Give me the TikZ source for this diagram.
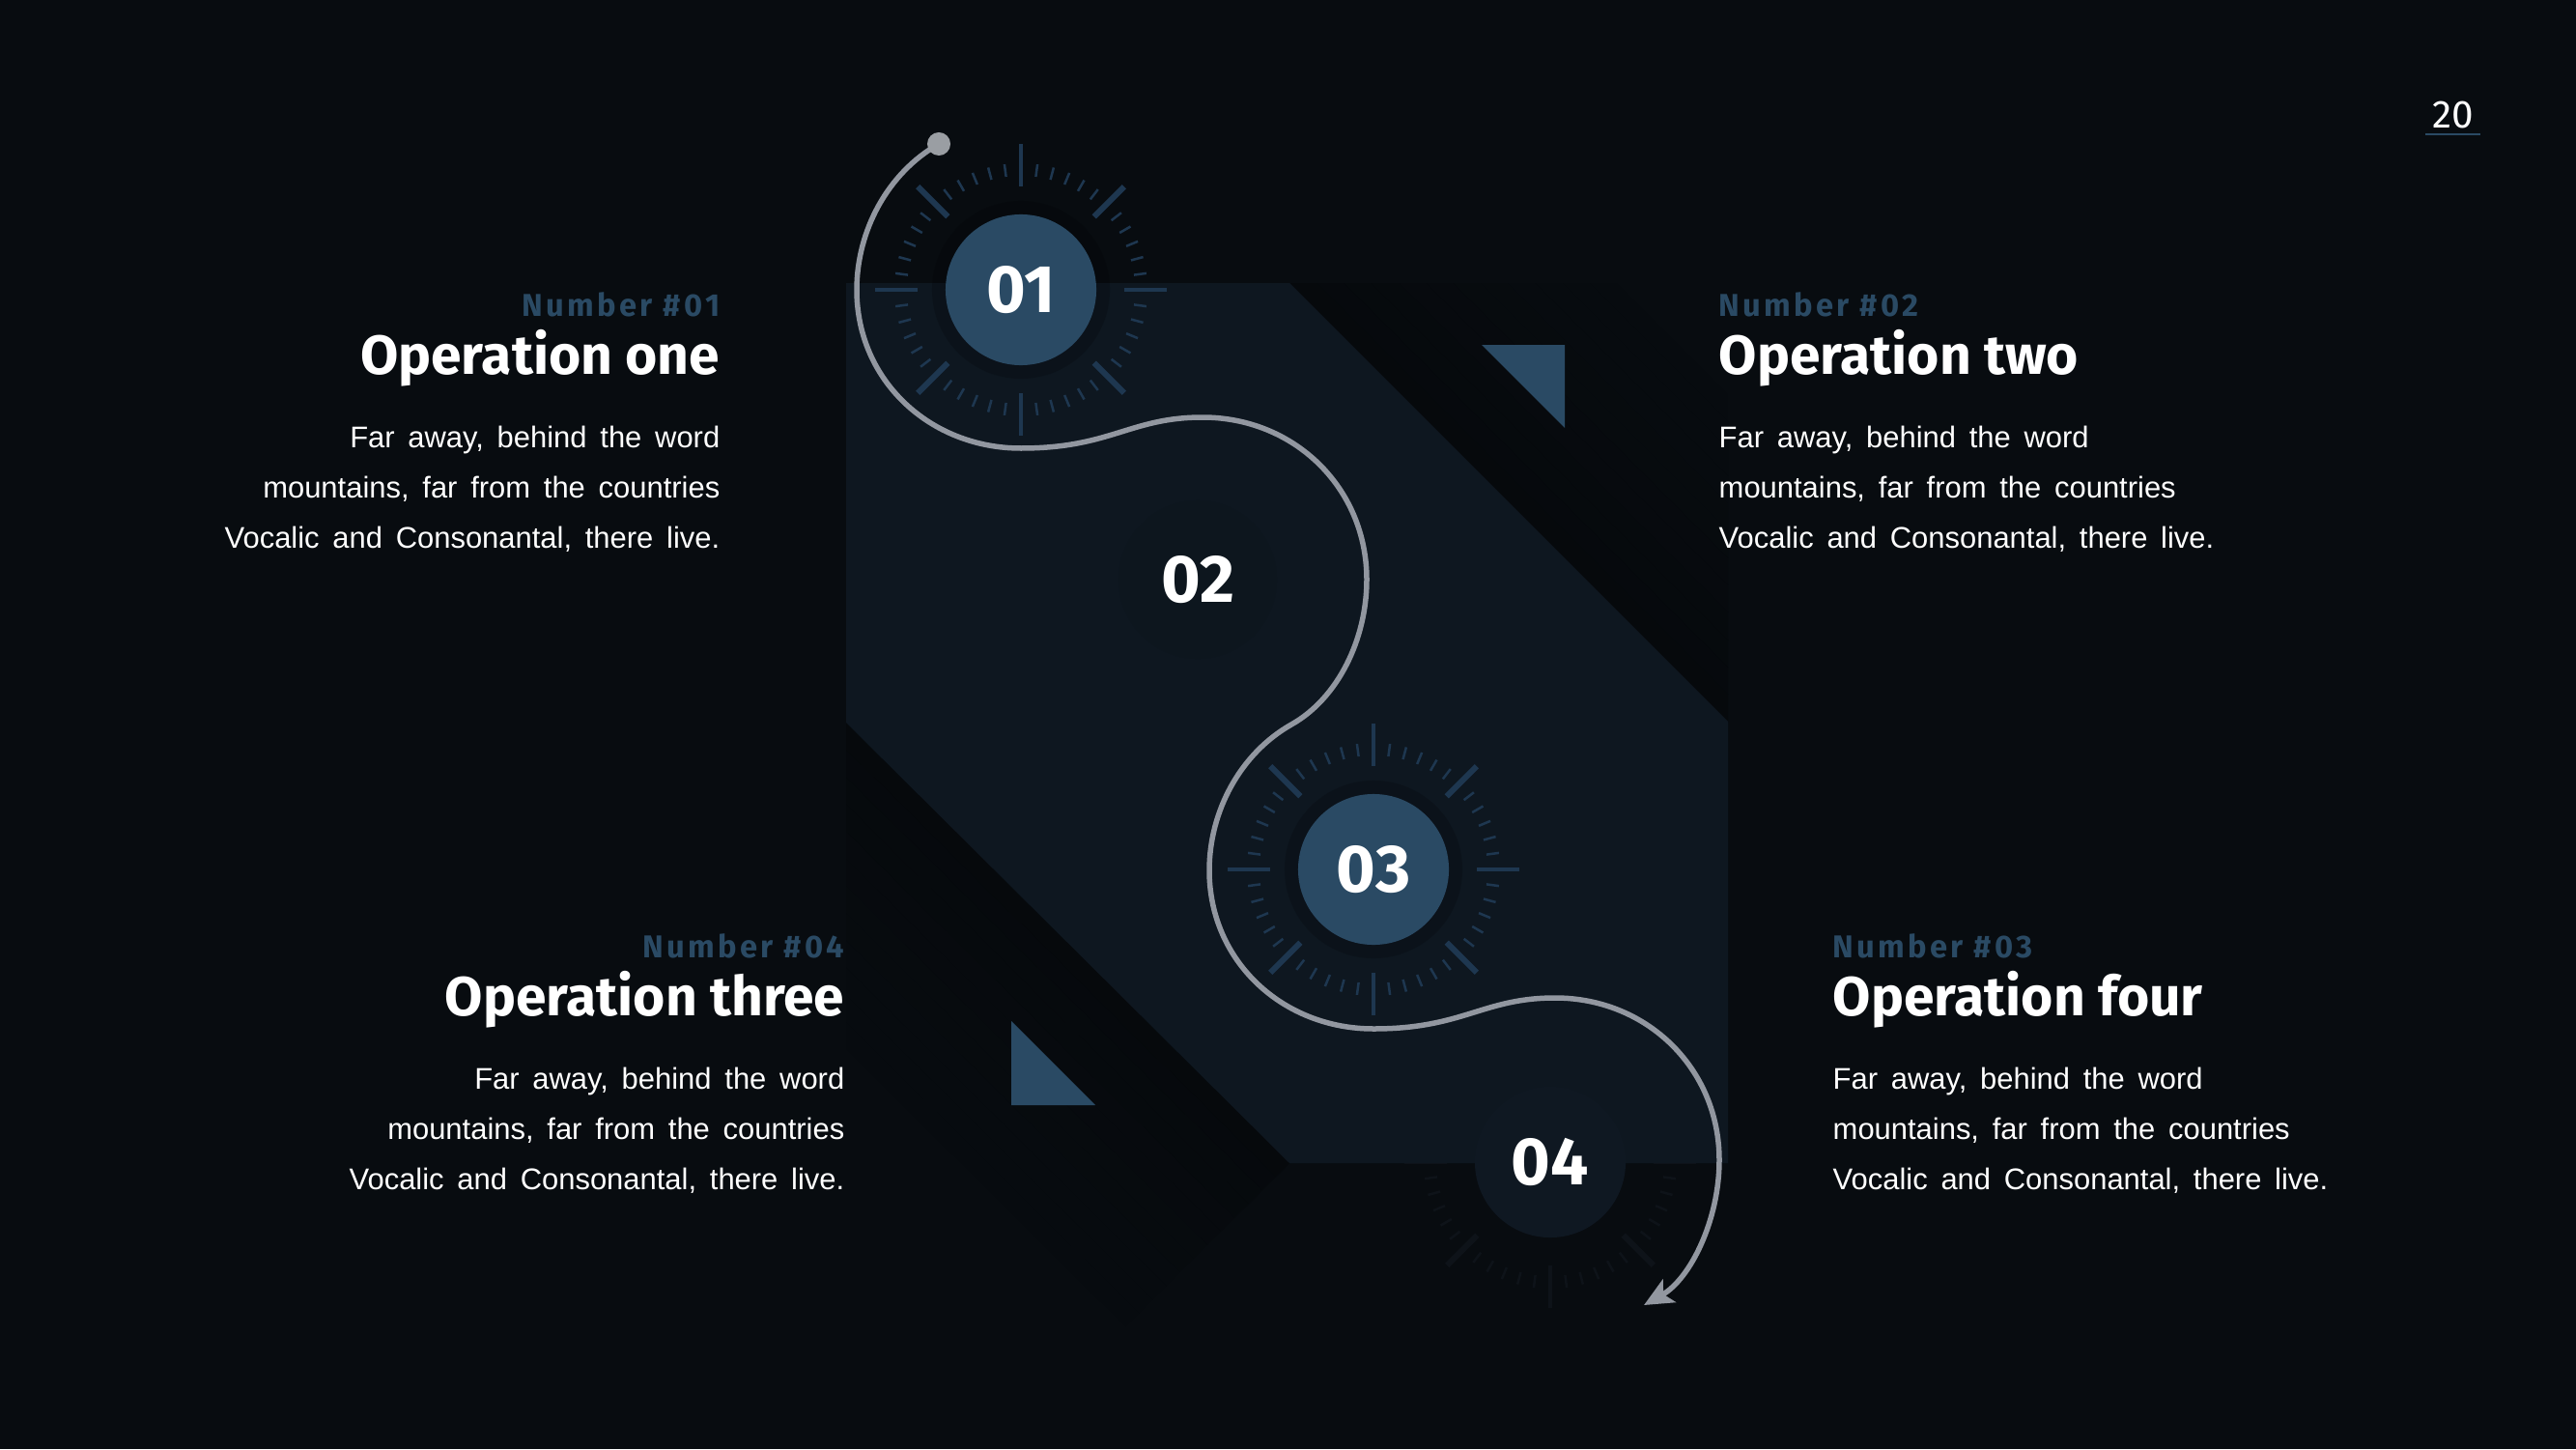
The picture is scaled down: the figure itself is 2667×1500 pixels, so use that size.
\documentclass[tikz,border=0pt]{standalone}
\usepackage{fontspec}
\setmainfont{Liberation Sans}[WordSpace=1.6]
\newfontfamily\headfont{Fira Sans}
\newfontfamily\labfont{Fira Sans}[LetterSpace=10]
\usetikzlibrary{calc,arrows.meta}
\definecolor{bg}{HTML}{080C10}
\definecolor{panel}{HTML}{0E1720}
\definecolor{accent}{HTML}{2A4A64}
\definecolor{tickc}{HTML}{1E3750}
\definecolor{curvec}{HTML}{9297A0}
\definecolor{dotc}{HTML}{9A9EA3}
\definecolor{halotwo}{HTML}{0D161E}
\definecolor{discfour}{HTML}{0F1822}
\definecolor{faintc}{HTML}{0E1319}

\newcommand{\dialticks}[2]{%
  \foreach \i in {0,...,47}{%
    \pgfmathtruncatemacro{\m}{mod(\i,6)}%
    \pgfmathtruncatemacro{\q}{mod(\i,12)}%
    \pgfmathsetmacro{\ang}{\i*7.5}%
    \ifnum\m=0
      \ifnum\q=0
        \draw[majortick,#2] ($(#1)+(\ang:107)$) -- ($(#1)+(\ang:151)$);
      \else
        \draw[diagtick,#2] ($(#1)+(\ang:107)$) -- ($(#1)+(\ang:151)$);
      \fi
    \else
      \draw[minortick,#2] ($(#1)+(\ang:118)$) -- ($(#1)+(\ang:131)$);
    \fi
  }}

\newcommand{\opblock}[6]{%
  \node[numlbl, anchor=#4] (#1num) at (#2,#3) {#5};
  \node[titlelbl, anchor=#4] (#1title) at (#2,#3+60) {#6};
  \node[bodyline, anchor=#4] (#1la) at (#2,#3+136) {Far away, behind the word};
  \node[bodyline, anchor=#4] (#1lb) at (#2,#3+188) {mountains, far from the countries};
  \node[bodyline, anchor=#4] (#1lc) at (#2,#3+240) {Vocalic and Consonantal, there live.};
}

\begin{document}
\begin{tikzpicture}[x=0.01cm,y=-0.01cm,
  majortick/.style={draw=tickc, line width=0.04cm},
  diagtick/.style={draw=tickc, line width=0.06cm},
  minortick/.style={draw=tickc, line width=0.025cm},
  numlbl/.style={font=\labfont\bfseries\fontsize{9.3}{11}\selectfont, text=accent, inner sep=0pt},
  titlelbl/.style={font=\headfont\bfseries\fontsize{16.2}{19}\selectfont, text=white, inner sep=0pt},
  bodyline/.style={font=\fontsize{8.8}{11}\selectfont, text=white, inner sep=0pt},
  digitdisc/.style={circle, inner sep=0pt, minimum size=1.56cm, text=white,
    font=\headfont\bfseries\fontsize{19.8}{22}\selectfont},
  curveline/.style={draw=curvec, line width=0.055cm, line cap=round},
  shadowstrip/.style={fill=black}
]
\useasboundingbox (0,0) rectangle (2667,1500);
\fill[bg] (0,0) rectangle (2667,1500);

% soft shadows beside the diagonal edges
\begin{scope}
  \clip (1335,293) rectangle (1789,747);
  \foreach \d/\o in {0/0.20,20/0.18,40/0.16,60/0.14,80/0.12,100/0.10,120/0.08,140/0.065,160/0.05,180/0.035,200/0.02,220/0.01}{
    \fill[shadowstrip, opacity=\o, shift={({\d*0.7071},{-\d*0.7071})}]
      (1335,293) -- (1789,747) -- (1803.1,732.9) -- (1349.1,278.9) -- cycle;
  }
\end{scope}
\begin{scope}
  \clip (876,748) rectangle (1335,1500);
  \foreach \d/\o in {0/0.20,20/0.18,40/0.16,60/0.14,80/0.12,100/0.10,120/0.08,140/0.065,160/0.05,180/0.035,200/0.02,220/0.01}{
    \fill[shadowstrip, opacity=\o, shift={({-\d*0.7071},{\d*0.7071})}]
      (876,748) -- (1335,1204) -- (1320.9,1218.1) -- (861.9,762.1) -- cycle;
  }
\end{scope}

% centres
\coordinate (c01) at (1057,300);
\coordinate (c02) at (1240,600);
\coordinate (c03) at (1422,900);
\coordinate (c04) at (1605,1203);

% faint dial of 04 (only its lower half shows below the panel)
\dialticks{c04}{draw=faintc}

% panel
\fill[panel] (876,293) -- (1335,293) -- (1789,747) -- (1789,1204) -- (1335,1204) -- (876,748) -- cycle;

% triangles
\fill[accent] (1534,357) -- (1620,357) -- (1620,443) -- cycle;
\fill[accent] (1047,1057) -- (1047,1144) -- (1134,1144) -- cycle;

% dials
\dialticks{c01}{}
\dialticks{c03}{}

\fill[black, opacity=0.18] (c01) circle[radius=0.92cm];
\fill[black, opacity=0.18] (c03) circle[radius=0.92cm];

\node[digitdisc, fill=accent] (n01) at (c01) {01};
\node[digitdisc, fill=halotwo, minimum size=1.64cm] (n02) at (c02) {02};
\node[digitdisc, fill=accent] (n03) at (c03) {03};
\node[digitdisc, fill=discfour] (n04) at (c04) {04};

% the winding path
\coordinate (p0) at (972,149);
\coordinate (p2) at (1702,1351);
\draw[curveline, -{Stealth[length=0.3cm, width=0.27cm, inset=0.07cm]}]
  (p0) .. controls (919,179) and (887,239) .. (887,300)
       .. controls (887,394) and (963,464) .. (1057,464)
       .. controls (1150,464) and (1170,432) .. (1245,432)
       .. controls (1340,432) and (1415,505) .. (1415,600)
       .. controls (1415,662) and (1385,723) .. (1337,750)
       .. controls (1284,780) and (1252,840) .. (1252,901)
       .. controls (1252,995) and (1328,1065) .. (1422,1065)
       .. controls (1515,1065) and (1535,1033) .. (1610,1033)
       .. controls (1705,1033) and (1780,1106) .. (1780,1201)
       .. controls (1780,1263) and (1750,1324) .. (p2);
\fill[dotc] (p0) circle[radius=0.12cm];

% text blocks
\opblock{a}{746}{327}{base east}{Number \#01}{Operation one}
\opblock{b}{1779}{327}{base west}{Number \#02}{Operation two}
\opblock{c}{875}{991}{base east}{Number \#04}{Operation three}
\opblock{d}{1897}{991}{base west}{Number \#03}{Operation four}

% page number
\node[inner sep=0pt, anchor=base, text=white, font=\headfont\fontsize{11.5}{13}\selectfont] (pg) at (2540,133) {20};
\draw[accent, line width=0.025cm] (2511,139) -- (2568,139);
\end{tikzpicture}
\end{document}
